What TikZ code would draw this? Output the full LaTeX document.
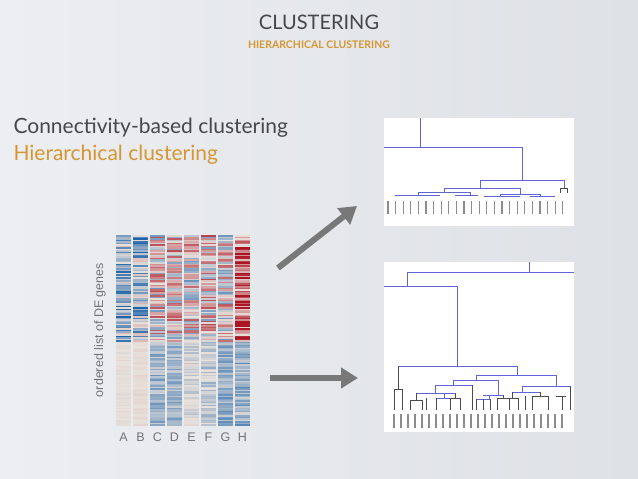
\documentclass[tikz,border=0pt]{standalone}
\usepackage{fontspec}
\setmainfont{Lato}
\newfontfamily\helv{Liberation Sans}
\usetikzlibrary{arrows.meta}
\definecolor{bgA}{RGB}{236,238,241}
\definecolor{bgB}{RGB}{222,225,229}
\definecolor{orng}{RGB}{214,150,50}
\definecolor{ttl}{RGB}{70,70,75}
\definecolor{hr}{RGB}{170,20,35}
\definecolor{hb}{RGB}{30,100,170}
\definecolor{cellbg}{RGB}{232,224,218}
\definecolor{dblue}{RGB}{95,100,215}
\definecolor{arr}{RGB}{120,120,120}
\tikzset{
  bl/.style={draw=dblue,line width=0.5pt},
  bk/.style={draw=black!70,line width=0.4pt},
  lab/.style={draw=black!45,line width=1.1pt},
  bigarrow/.style={draw=arr,line width=6pt,-{Triangle[width=20pt,length=17pt]}},
  panel/.style={fill=white,draw=none}
}
\begin{document}
\begin{tikzpicture}[x=1pt,y=-1pt]
\shade[left color=bgA,right color=bgB] (0,0) rectangle (638,479);
\useasboundingbox (0,0) rectangle (638,479);
\node[text=ttl,font=\fontsize{20}{22}\selectfont] (title) at (319,22) {CLUSTERING};
\node[text=orng,font=\bfseries\fontsize{10.5}{12}\selectfont] (sub) at (319,45) {HIERARCHICAL CLUSTERING};
\node[anchor=west,text=ttl,font=\fontsize{21}{23}\selectfont] (t1) at (10,128) {Connectivity-based clustering};
\node[anchor=west,text=orng,font=\fontsize{21}{23}\selectfont] (t2) at (10,155) {Hierarchical clustering};
% heatmap
\pgfmathsetseed{7}
\foreach \c/\mt/\mb/\nb in {0/-0.5/0/0.06, 1/-0.45/0.02/0.06, 2/0.05/-0.4/0.3, 3/0.12/-0.4/0.25, 4/0.0/-0.12/0.2, 5/0.12/-0.22/0.25, 6/0.05/-0.45/0.3, 7/0.65/-0.45/0.35}{
  \pgfmathsetmacro\xa{116+\c*17}
  \foreach \r in {0,...,70}{
    \pgfmathsetmacro\v{\mt+0.7*rand}
    \pgfmathtruncatemacro\p{min(100,abs(\v)*95)}
    \pgfmathtruncatemacro\s{\v>0}
    \ifnum\s=1 \def\cc{hr!\p!cellbg}\else\def\cc{hb!\p!cellbg}\fi
    \fill[\cc] (\xa,235+1.5*\r) rectangle ++(15,1.55);
  }
  \foreach \r in {0,...,55}{
    \pgfmathsetmacro\v{\mb+\nb*rand}
    \pgfmathtruncatemacro\p{min(100,abs(\v)*90)}
    \pgfmathtruncatemacro\s{\v>0}
    \ifnum\s=1 \def\cc{hr!\p!cellbg}\else\def\cc{hb!\p!cellbg}\fi
    \fill[\cc] (\xa,341.5+1.5*\r) rectangle ++(15,1.55);
  }
}
\node[rotate=90,text=black!55,font=\helv\fontsize{12.5}{14}\selectfont] (ylab) at (100,330) {ordered list of DE genes};
\foreach \l [count=\i from 0] in {A,B,C,D,E,F,G,H}{
  \node[text=black!55,font=\helv\fontsize{12.5}{14}\selectfont] (c\l) at (123.5+\i*17,437) {\l};
}
% top dendrogram
\node[panel,minimum width=190pt,minimum height=108pt,inner sep=0pt] (d1) at (479,172) {};
\draw[bl] (420,118)--(420,147) (384,147)--(522,147)--(522,180) (480,180)--(564,180) (564,180)--(564,188) (480,180)--(480,188)
  (444,188)--(520,188) (444,188)--(444,192) (418,192)--(470,192) (418,192)--(418,195) (470,192)--(470,195)
  (520,188)--(520,194) (500,194)--(540,194) (500,194)--(500,196) (540,194)--(540,196)
  (395,195)--(440,195) (455,195)--(478,195) (484,196)--(520,196) (530,196)--(555,196);
\draw[bk] (560,188)--(567,188) (560,188)--(560,193) (567,188)--(567,193);
\foreach \i in {0,...,23}{\draw[lab] (388+\i*7.6,201)--(388+\i*7.6,214);}
% bottom dendrogram
\node[panel,minimum width=190pt,minimum height=170pt,inner sep=0pt] (d2) at (479,347) {};
\draw[bl] (529,262)--(529,272) (407,272)--(574,272) (407,272)--(407,286) (384,286)--(457,286) (457,286)--(457,366)
  (398,366)--(517,366) (517,366)--(517,375) (476,375)--(556,375) (476,375)--(476,380) (453,380)--(498,380)
  (453,380)--(453,385) (435,385)--(472,385) (435,385)--(435,393) (416,393)--(455,393) (498,380)--(498,395) (483,395)--(503,395)
  (556,375)--(556,386) (522,386)--(570,386) (522,386)--(522,392) (512,392)--(540,392)
  (436,398)--(455,398) (444,394)--(444,398) (489,396)--(489,399) (476,399)--(490,399);
\draw[bk] (398,366)--(398,389) (394,389)--(402,389) (394,389)--(394,410) (402,389)--(402,410)
  (416,393)--(416,400) (410,400)--(422,400) (410,400)--(410,410) (422,400)--(422,410)
  (426,398)--(426,410) (436,398)--(436,410) (455,393)--(455,398) (450,398)--(460,398) (450,398)--(450,410) (460,398)--(460,410)
  (472,385)--(472,410) (476,399)--(476,410) (483,399)--(483,410) (490,399)--(490,410) (503,395)--(503,398) (497,398)--(509,398) (497,398)--(497,410) (509,398)--(509,410)
  (512,392)--(512,398) (506,398)--(518,398) (518,398)--(518,410) (540,392)--(540,396) (532,396)--(548,396) (532,396)--(532,410) (548,396)--(548,410)
  (525,396)--(525,410) (570,386)--(570,410) (562,396)--(562,410) (556,396)--(566,396);
\foreach \i in {0,...,24}{\draw[lab] (394+\i*7,414)--(394+\i*7,428);}
% arrows
\draw[bigarrow] (278,268) -- (357,206);
\draw[bigarrow] (270,378) -- (358,378);
\end{tikzpicture}
\end{document}
